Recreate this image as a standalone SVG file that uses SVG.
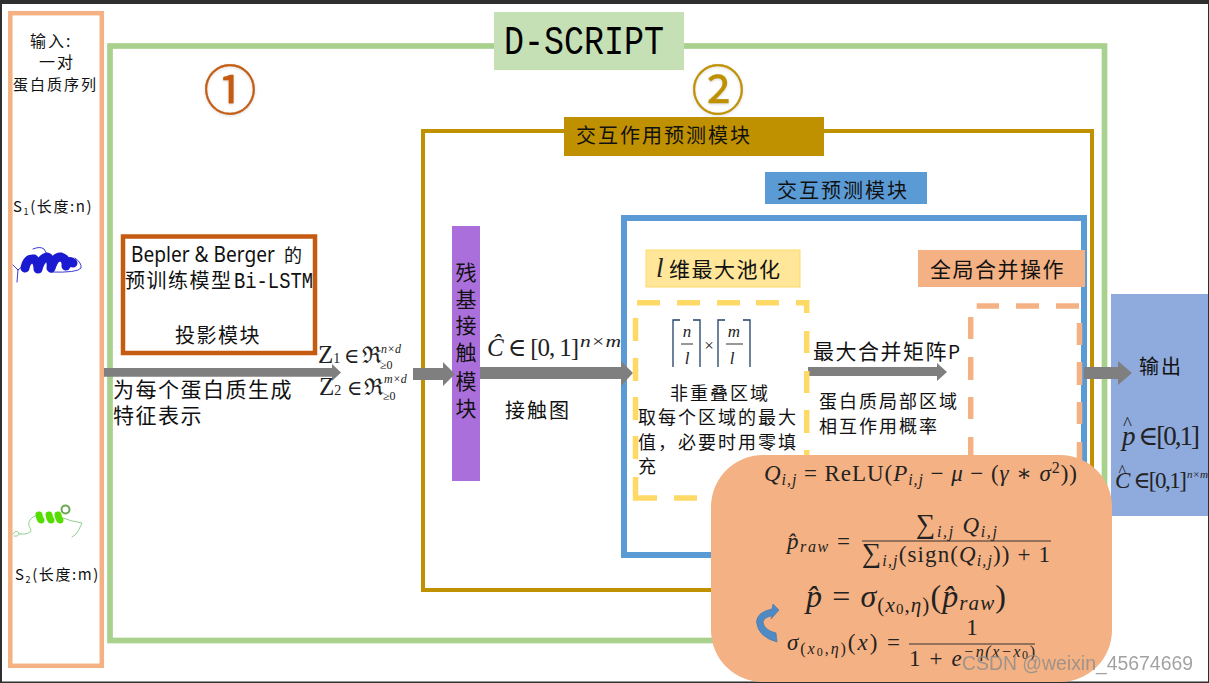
<svg xmlns="http://www.w3.org/2000/svg" width="1209" height="683" viewBox="0 0 1209 683">
<style>
text{fill:#111;font-family:"Noto Sans CJK SC","Liberation Sans",sans-serif;white-space:pre}
.c21{font-size:21px;letter-spacing:1.5px}
.c20{font-size:20px;letter-spacing:2px}
.c18{font-size:18px;letter-spacing:2px}
.c15{font-size:15px;letter-spacing:2px}
.m{font-family:"Liberation Serif","DejaVu Serif",serif;font-size:24px;fill:#222}
.i{font-style:italic}
.box{fill:none}
.arr{fill:#7f7f7f}
.br{fill:none;stroke:#1f3f66;stroke-width:1.3}
.bar{stroke:#333;stroke-width:1.2}
.dash{fill:none;stroke-width:5.5;stroke-linecap:butt;stroke-linejoin:miter}
</style>
<defs>
<filter id="sh" x="-20%" y="-20%" width="140%" height="150%"><feGaussianBlur stdDeviation="1.5"/></filter>
</defs>
<rect width="1209" height="683" fill="#fff"/>
<path id="frame" d="M0 0H1209V683H0Z M2 4V681.5H1208V4Z" fill="#2f2f2f" fill-rule="evenodd"/>

<g id="input">
<rect class="box" x="10.3" y="13.2" width="91.5" height="652.6" stroke="#f4b183" stroke-width="4.5"/>
<text class="c15" x="30" y="47" style="font-size:16px">输入:</text>
<text class="c15" x="39" y="68" style="font-size:16px">一对</text>
<text class="c15" x="13" y="90" style="font-size:15px">蛋白质序列</text>
<text x="13" y="212" style="font-size:15px;letter-spacing:1.6px">S<tspan dy="3" font-size="9">1</tspan><tspan dy="-3">(长度:n)</tspan></text>
<text x="15" y="580" style="font-size:15px;letter-spacing:1.6px">S<tspan dy="3" font-size="9">2</tspan><tspan dy="-3">(长度:m)</tspan></text>
<g id="protein1" fill="none" stroke-linecap="round" stroke-linejoin="round">
<path d="M13 265L18 270L17 282M18 270Q24 266 26 262M33 249Q40 246 44 249L48 256M75 258Q82 263 81 268Q78 273 50 272" stroke="#3a3ad0" stroke-width="1"/>
<path d="M25 268Q27 258 34 259Q38 262 38 269Q41 258 47 257Q52 259 51 268Q55 256 61 257Q67 259 66 266Q69 259 73 263" stroke="#1a1ad0" stroke-width="9"/>
</g>
<g id="protein2" fill="none" stroke-linecap="round" stroke-linejoin="round">
<path d="M13 534Q16 529 19 533Q19 537 14 536M19 534Q30 535 31 530Q24 520 37 515M63 518Q70 521 82 523Q78 532 76 534L72 537" stroke="#8fd08f" stroke-width="1"/>
<circle cx="65.5" cy="509.5" r="4" stroke="#6aa84f" stroke-width="2"/>
<path d="M39 515Q40 520 41 520M49 515Q50 520 51 520M58 515Q59 520 60 520" stroke="#55dd00" stroke-width="7"/>
</g>
</g>

<g id="dscript">
<rect class="box" x="110" y="46" width="994.5" height="594.5" stroke="#a9d18e" stroke-width="5.7"/>
<rect x="494" y="12" width="190" height="58" fill="#c5e0b4"/>
<text x="504" y="54" textLength="160" lengthAdjust="spacingAndGlyphs" style="font-family:'Liberation Mono',monospace;font-size:41px;fill:#000">D-SCRIPT</text>
</g>

<g id="step1">
<text x="203.500" y="111" style="font-size:53px;fill:#777;opacity:.35" filter="url(#sh)">①</text>
<text x="203.500" y="110" style="font-size:53px;fill:#c55a11;stroke:#c55a11;stroke-width:.4">①</text>
</g>
<g id="step2">
<text x="691.500" y="111" style="font-size:53px;fill:#777;opacity:.35" filter="url(#sh)">②</text>
<text x="691.500" y="110" style="font-size:53px;fill:#bf9000;stroke:#bf9000;stroke-width:.4">②</text>
</g>

<g id="interaction">
<rect class="box" x="423" y="131" width="669" height="459" stroke="#bf9000" stroke-width="4"/>
<rect x="564" y="117" width="260" height="39" fill="#bf9000"/>
<text class="c20" x="576" y="143">交互作用预测模块</text>
</g>

<g id="prediction">
<rect class="box" x="624" y="218" width="460" height="337" stroke="#5b9bd5" stroke-width="6"/>
<rect x="765" y="172" width="162" height="32" fill="#5b9bd5"/>
<text class="c20" x="777" y="198">交互预测模块</text>
</g>

<g id="bilstm">
<rect class="box" x="123" y="236.500" width="192" height="116.500" stroke="#c55a11" stroke-width="4.500"/>
<text x="131" y="262" textLength="144" lengthAdjust="spacingAndGlyphs" style="font-family:'Noto Sans','Liberation Sans',sans-serif;font-size:21px">Bepler &amp; Berger</text>
<text x="284" y="262" style="font-size:18px">的</text>
<text class="c20" x="125" y="288" style="letter-spacing:1.500px">预训练模型</text>
<text x="234" y="288" textLength="79" lengthAdjust="spacingAndGlyphs" style="font-family:'Liberation Mono',monospace;font-size:22px">Bi-LSTM</text>
<text class="c20" x="175" y="343" style="letter-spacing:1.500px">投影模块</text>
</g>

<g id="residue">
<rect x="452" y="226" width="28" height="255" fill="#ab6fdc"/>
<text x="466" y="280" text-anchor="middle" style="font-size:21px">残</text>
<text x="466" y="307" text-anchor="middle" style="font-size:21px">基</text>
<text x="466" y="333" text-anchor="middle" style="font-size:21px">接</text>
<text x="466" y="360" text-anchor="middle" style="font-size:21px">触</text>
<text x="466" y="389" text-anchor="middle" style="font-size:21px">模</text>
<text x="466" y="416" text-anchor="middle" style="font-size:21px">块</text>
</g>

<g id="output">
<rect x="1111" y="294" width="97" height="222" fill="#8faadc"/>
<text class="c20" x="1139" y="374">输出</text>
<text class="m" x="1123" y="430" style="font-size:19px">^</text>
<text class="m" x="1122" y="445" textLength="78" lengthAdjust="spacing" style="font-size:27px"><tspan class="i">p</tspan> ∈[0,1]</text>
<text class="m" x="1118.500" y="476" style="font-size:16px">^</text>
<text class="m" x="1115" y="488" textLength="72" lengthAdjust="spacing" style="font-size:23px"><tspan class="i">C</tspan> ∈[0,1]</text>
<text class="m i" x="1187" y="478" textLength="21" lengthAdjust="spacingAndGlyphs" style="font-size:11px">n×m</text>
</g>

<g id="connectors">
<polygon class="arr" points="104,368 332,368 332,364 341,372.500 332,381 332,376.700 104,376.700"/>
<polygon class="arr" points="413,368 443,368 443,362 455,374 443,386 443,380 413,380"/>
<polygon class="arr" points="480,367 621,367 621,361 633,373 621,386 621,379 480,379"/>
<polygon class="arr" points="808,367 937,367 937,363 947,372 937,381 937,376 808,376"/>
<polygon class="arr" points="1084,367 1118,367 1118,361 1132,373 1118,385 1118,379 1084,379"/>
</g>

<g id="features">
<text class="c21" x="113" y="397">为每个蛋白质生成</text>
<text class="c21" x="113" y="423">特征表示</text>
<text class="m" x="318" y="363" style="font-size:25px">Z<tspan font-size="14">1</tspan></text>
<text class="m" x="344" y="363" style="font-size:21px">∈</text>
<text class="m" x="362" y="363" style="font-size:23px;font-family:'DejaVu Serif',serif">ℜ</text>
<text class="m i" x="381" y="353" style="font-size:12px">n×d</text>
<text class="m" x="380" y="369" style="font-size:12px">≥0</text>
<text class="m" x="319" y="395" style="font-size:25px">Z<tspan font-size="14">2</tspan></text>
<text class="m" x="347" y="395" style="font-size:21px">∈</text>
<text class="m" x="364" y="395" style="font-size:23px;font-family:'DejaVu Serif',serif">ℜ</text>
<text class="m i" x="384" y="383" style="font-size:12px">m×d</text>
<text class="m" x="383" y="400" style="font-size:12px">≥0</text>
</g>

<g id="contact">
<text class="m" x="487" y="356" textLength="92" lengthAdjust="spacing" style="font-size:25px"><tspan class="i">Ĉ</tspan> ∈ [0, 1]</text>
<text class="m i" x="580" y="347" textLength="41" lengthAdjust="spacingAndGlyphs" style="font-size:17px">n×m</text>
<text class="c20" x="505" y="418">接触图</text>
</g>

<g id="maxpool">
<rect x="646" y="250" width="154" height="37" fill="#ffe699" stroke="#ffd966" stroke-width="1"/>
<text class="m i" x="656" y="277" style="font-size:27px">l</text>
<text class="c21" x="669" y="277">维最大池化</text>
<path class="dash" stroke="#ffd966" d="M637 302.700H660M677 302.700H700M717 302.700H740M756 302.700H779M796 302.700H806.700V313M806.700 331V353M806.700 371V393M806.700 410V433M806.700 450V473M635.500 318V341M635.500 358V381M635.500 397V420M635.500 436V459M635.500 477V498H657M674 498H697M714 498H737"/>
<path class="br" d="M680 320H673V367M693 320H700V367M725 320H718V367M743 320H750V367"/>
<path class="bar" d="M681 344H693M726 344H743"/>
<text class="m i" x="687" y="337" text-anchor="middle" style="font-size:17px">n</text>
<text class="m i" x="687" y="364" text-anchor="middle" style="font-size:17px">l</text>
<text class="m" x="709" y="351" text-anchor="middle" style="font-size:17px">×</text>
<text class="m i" x="734" y="337" text-anchor="middle" style="font-size:17px">m</text>
<text class="m i" x="732" y="364" text-anchor="middle" style="font-size:17px">l</text>
<text class="c18" x="670" y="400">非重叠区域</text>
<text class="c18" x="638" y="424">取每个区域的最大</text>
<text class="c18" x="638" y="449">值&#xFF0C;必要时用零填</text>
<text class="c18" x="638" y="473">充</text>
</g>

<g id="merged">
<text class="c21" x="813" y="359">最大合并矩阵<tspan font-size="19" letter-spacing="0">P</tspan></text>
<text class="c18" x="819" y="408">蛋白质局部区域</text>
<text class="c18" x="819" y="433">相互作用概率</text>
</g>

<g id="globalmerge">
<rect x="918" y="250" width="167" height="37" fill="#f4b183"/>
<text class="c21" x="930" y="277">全局合并操作</text>
<path class="dash" stroke="#f4b183" d="M976.700 306H999M1016 306H1039M1056 306H1079M970.700 317V339M970.700 357V380M970.700 397V419M970.700 437V460M1079.500 323V345M1079.500 362V385M1079.500 402V424M1079.500 442V465"/>
</g>

<g id="formulas">
<rect x="711" y="455" width="401" height="227" rx="52" fill="#f4b183"/>
<text class="m" x="764" y="481" textLength="313" lengthAdjust="spacing" style="font-size:23px"><tspan class="i">Q</tspan><tspan class="i" dy="4" font-size="16">i,j</tspan><tspan dy="-4"> = ReLU(</tspan><tspan class="i">P</tspan><tspan class="i" dy="4" font-size="16">i,j</tspan><tspan dy="-4"> − </tspan><tspan class="i">μ</tspan> − (<tspan class="i">γ</tspan> ∗ <tspan class="i">σ</tspan><tspan dy="-8" font-size="16">2</tspan><tspan dy="8">))</tspan></text>
<text class="m" x="787" y="549" textLength="63" lengthAdjust="spacing" style="font-size:23px"><tspan class="i">p̂</tspan><tspan class="i" dy="3" font-size="16">raw</tspan><tspan dy="-3"> =</tspan></text>
<path class="bar" d="M862 541H1051"/>
<text class="m" x="916" y="533" textLength="81" lengthAdjust="spacing" style="font-size:23px"><tspan font-size="27">∑</tspan><tspan class="i" dy="4" font-size="16">i,j</tspan><tspan class="i" dy="-4"> Q</tspan><tspan class="i" dy="4" font-size="16">i,j</tspan></text>
<text class="m" x="862" y="562" textLength="188" lengthAdjust="spacing" style="font-size:23px"><tspan font-size="27">∑</tspan><tspan class="i" dy="4" font-size="16">i,j</tspan><tspan dy="-4">(sign(</tspan><tspan class="i">Q</tspan><tspan class="i" dy="4" font-size="16">i,j</tspan><tspan dy="-4">)) + 1</tspan></text>
<text class="m" x="806" y="607" textLength="200" lengthAdjust="spacing" style="font-size:32px"><tspan class="i">p̂</tspan> = <tspan class="i">σ</tspan><tspan dy="5" font-size="21">(</tspan><tspan class="i" font-size="21">x</tspan><tspan dy="2" font-size="15">0</tspan><tspan dy="-2" font-size="21">,</tspan><tspan class="i" font-size="21">η</tspan><tspan font-size="21">)</tspan><tspan dy="-5">(</tspan><tspan class="i">p̂</tspan><tspan class="i" dy="3" font-size="21">raw</tspan><tspan dy="-3">)</tspan></text>
<text class="m" x="787" y="650" textLength="113" lengthAdjust="spacing" style="font-size:23px"><tspan class="i">σ</tspan><tspan dy="4" font-size="16">(</tspan><tspan class="i" font-size="16">x</tspan><tspan dy="2" font-size="12">0</tspan><tspan dy="-2" font-size="16">,</tspan><tspan class="i" font-size="16">η</tspan><tspan font-size="16">)</tspan><tspan dy="-4">(</tspan><tspan class="i">x</tspan>) =</text>
<path class="bar" d="M909 644H1035"/>
<text class="m" x="972" y="635" text-anchor="middle" style="font-size:23px">1</text>
<text class="m" x="909" y="666" textLength="126" lengthAdjust="spacing" style="font-size:23px">1 + <tspan class="i">e</tspan><tspan class="i" dy="-9" font-size="16">−η(x−x</tspan><tspan dy="2" font-size="12">0</tspan><tspan dy="-2" font-size="16">)</tspan></text>
<path id="curved" d="M779 610L773 604L772 609Q757 612 756.500 622Q758 637 777 642L776 633Q764 630 763 622Q764 617 772 616L771 619Z" fill="#4f8ac4" stroke="#3b74ac" stroke-width=".6"/>
</g>

<text id="watermark" x="962" y="670" textLength="231" lengthAdjust="spacingAndGlyphs" style="font-family:'Liberation Sans',sans-serif;font-size:20px;fill:#8c8c8c;opacity:.8">CSDN @weixin_45674669</text>
</svg>
